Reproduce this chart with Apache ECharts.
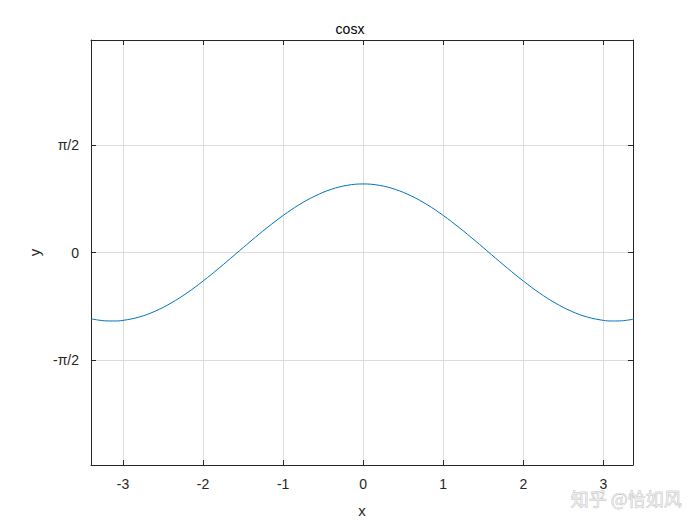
<!DOCTYPE html>
<html><head><meta charset="utf-8">
<script src="https://cdn.jsdelivr.net/npm/echarts@6/dist/echarts.min.js"></script>
<style>body{margin:0}#c{width:700px;height:525px}</style></head>
<body><div id="c"></div>
<script>
const xs = [-3.4,-3.3,-3.2,-3.1,-3.0,-2.8,-2.6,-2.4,-2.2,-2.0,-1.8,-1.6,-1.4,-1.2,-1.0,-0.8,-0.6,-0.4,-0.2,0,
  0.2,0.4,0.6,0.8,1.0,1.2,1.4,1.6,1.8,2.0,2.2,2.4,2.6,2.8,3.0,3.1,3.2,3.3,3.4];
const ys = [-0.967,-0.987,-0.998,-0.999,-0.990,-0.942,-0.857,-0.737,-0.589,-0.416,-0.227,-0.029,0.170,0.362,0.540,0.697,0.825,0.921,0.980,1,
  0.980,0.921,0.825,0.697,0.540,0.362,0.170,-0.029,-0.227,-0.416,-0.589,-0.737,-0.857,-0.942,-0.990,-0.999,-0.998,-0.987,-0.967];
const xTicks = [-3,-2,-1,0,1,2,3];
const yTicks = [-Math.PI/2, 0, Math.PI/2];
const yTickLabels = ['-π/2','0','π/2'];
const font = 'Liberation Sans, Arial, sans-serif';
const ax = {
  axisLine:{show:true,onZero:false,lineStyle:{color:'#262626',width:1}},
  axisTick:{show:true,inside:true,length:5,lineStyle:{color:'#262626'}},
  splitLine:{show:true,lineStyle:{color:'#dcdcdc'}}
};
const chart = echarts.init(document.getElementById('c'), null, {renderer:'svg'});
chart.setOption({
  animation:false,
  backgroundColor:'#fff',
  title:{text:'cosx',left:'center',top:17,textStyle:{fontFamily:font,fontSize:14,fontWeight:'normal',color:'#000'}},
  grid:{left:91,right:67,top:40,bottom:60},
  xAxis:[
    {...ax,type:'value',min:-3.4,max:3.37,position:'bottom',
     axisTick:{...ax.axisTick,customValues:xTicks},
     axisLabel:{customValues:xTicks,color:'#262626',fontFamily:font,fontSize:14,margin:12},
     name:'x',nameLocation:'middle',nameGap:38,nameTextStyle:{fontFamily:font,fontSize:15,color:'#262626'}},
    {...ax,type:'value',min:-3.4,max:3.37,position:'top',splitLine:{show:false},
     axisTick:{...ax.axisTick,customValues:xTicks},axisLabel:{show:false}}
  ],
  yAxis:[
    {...ax,type:'value',min:-3.1,max:3.1,position:'left',
     axisTick:{...ax.axisTick,customValues:yTicks},
     axisLabel:{customValues:yTicks,color:'#262626',fontFamily:font,fontSize:14,margin:12,
       formatter:v=>yTickLabels[yTicks.findIndex(t=>Math.abs(t-v)<1e-6)]},
     name:'y',nameLocation:'middle',nameGap:46,nameTextStyle:{fontFamily:font,fontSize:15,color:'#262626'}},
    {...ax,type:'value',min:-3.1,max:3.1,position:'right',splitLine:{show:false},
     axisTick:{...ax.axisTick,customValues:yTicks},axisLabel:{show:false}}
  ],
  graphic:[{type:'text',right:18,bottom:18,style:{text:'知乎 @恰如风',fill:'rgba(235,235,235,0.9)',stroke:'rgba(120,120,120,0.6)',lineWidth:0.6,font:'18px "Noto Sans CJK SC"'}}],
  series:[{type:'line',data:xs.map((x,i)=>[x,ys[i]]),smooth:0.4,showSymbol:false,clip:true,
    lineStyle:{color:'#0072bd',width:1}}]
});
</script></body></html>
